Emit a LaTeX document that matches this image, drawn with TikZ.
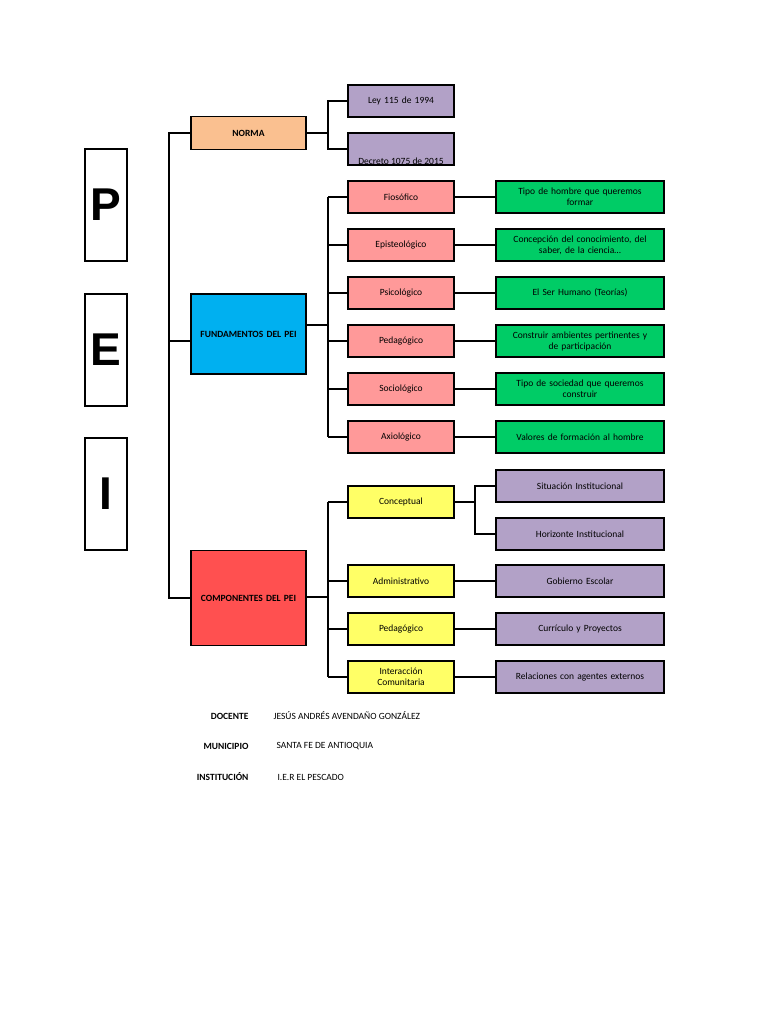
\documentclass[tikz,border=0pt]{standalone}
\usepackage{fontspec}
\setmainfont{Carlito}
\newfontfamily\letrafont{Liberation Sans}
\usetikzlibrary{positioning}
\definecolor{peach}{HTML}{FAC090}
\definecolor{azul}{HTML}{00B0F0}
\definecolor{rojo}{HTML}{FF5050}
\definecolor{lila}{HTML}{B2A1C7}
\definecolor{rosa}{HTML}{FF9999}
\definecolor{verde}{HTML}{00CC66}
\definecolor{amarillo}{HTML}{FFFF66}
\tikzset{
    box/.style = {rectangle, draw=black, line width=1.2pt, text centered, font=\fontsize{9.5}{11}\selectfont},
    letra/.style = {box, minimum width=42pt, minimum height=112pt, font=\fontsize{46}{46}\letrafont\bfseries},
    main/.style = {box, minimum width=115pt, text width=113pt, inner sep=0pt, font=\fontsize{9.5}{11}\selectfont\bfseries},
    mid/.style = {box, minimum width=106pt, minimum height=32pt, text width=104pt, inner sep=0pt},
    leaf/.style = {box, minimum width=168pt, minimum height=32pt, text width=150pt, inner sep=0pt},
    link/.style = {line width=2pt, black}
}
\begin{document}
\begin{tikzpicture}[x=1pt, y=-1pt]
        \useasboundingbox (0,0) rectangle (768,1024);
        % Letters
        \node (p) [letra] at (106,205) {P};
        \node (e) [letra] at (106,350) {E};
        \node (i) [letra] at (106,494) {I};

        % Main blocks
        \node (norma) [main, fill=peach, minimum height=33pt] at (248.5,133) {NORMA};
        \node (fund) [main, fill=azul, minimum height=80pt] at (248.5,334) {FUNDAMENTOS DEL PEI};
        \node (comp) [main, fill=rojo, minimum height=95pt] at (248.5,598) {COMPONENTES DEL PEI};
        \draw [link] (norma.west) -- (169,133) -- (169,598) -- (comp.west);
        \draw [link] (169,341) -- (fund.west |- 0,341);

        % Norma
        \node (ley) [mid, fill=lila] at (401,101) {Ley 115 de 1994};
        \node (dec) [mid, fill=lila] at (401,149) {};
        \node (dect) [font=\fontsize{9.5}{11}\selectfont, anchor=south, inner sep=1pt] at (dec.south) {Decreto 1075 de 2015};
        \draw [link] (norma.east) -- (328,133);
        \draw [link] (ley.west) -| (328,133) |- (dec.west);

        % Fundamentos
        \draw [link] (fund.east |- 0,325) -- (328,325);
        \draw [link] (328,197) -- (328,437);
        \foreach \n/\a/\b [count=\k from 0] in {
            f1/Fiosófico/{Tipo de hombre que queremos\\formar},
            f2/Episteológico/{Concepción del conocimiento, del\\saber, de la ciencia…},
            f3/Psicológico/{El Ser Humano (Teorías)},
            f4/Pedagógico/{Construir ambientes pertinentes y\\de participación},
            f5/Sociológico/{Tipo de sociedad que queremos\\construir},
            f6/Axiológico/{Valores de formación al hombre}} {
            \node (\n) [mid, fill=rosa] at (401,197+48*\k) {\a};
            \node (\n g) [leaf, fill=verde] at (580,197+48*\k) {\b};
            \draw [link] (328,197+48*\k) -- (\n.west);
            \draw [link] (\n.east) -- (\n g.west);
        }

        % Componentes
        \draw [link] (comp.east |- 0,597) -- (328,597);
        \draw [link] (328,502) -- (328,677);
        \node (c1) [mid, fill=amarillo] at (401,502) {Conceptual};
        \node (c1a) [leaf, fill=lila] at (580,486) {Situación Institucional};
        \node (c1b) [leaf, fill=lila] at (580,534) {Horizonte Institucional};
        \draw [link] (328,502) -- (c1.west);
        \draw [link] (c1.east) -- (475,502);
        \draw [link] (c1a.west) -| (475,502) |- (c1b.west);
        \foreach \n/\a/\b [count=\k from 0] in {
            c2/Administrativo/{Gobierno Escolar},
            c3/Pedagógico/{Currículo y Proyectos},
            c4/{Interacción\\Comunitaria}/{Relaciones con agentes externos}} {
            \node (\n) [mid, fill=amarillo] at (401,581+48*\k) {\a};
            \node (\n g) [leaf, fill=lila] at (580,581+48*\k) {\b};
            \draw [link] (328,581+48*\k) -- (\n.west);
            \draw [link] (\n.east) -- (\n g.west);
        }

        % Datos
        \node (d1) [font=\fontsize{9.5}{11}\selectfont\bfseries, anchor=east] at (252,716) {DOCENTE};
        \node (d2) [font=\fontsize{9.5}{11}\selectfont\bfseries, anchor=east] at (252,746) {MUNICIPIO};
        \node (d3) [font=\fontsize{9.5}{11}\selectfont\bfseries, anchor=east] at (252,777) {INSTITUCIÓN};
        \node (v1) [font=\fontsize{9.5}{11}\selectfont, anchor=west] at (270,716) {JESÚS ANDRÉS AVENDAÑO GONZÁLEZ};
        \node (v2) [font=\fontsize{9.5}{11}\selectfont, anchor=west] at (273,746) {SANTA FE DE ANTIOQUIA};
        \node (v3) [font=\fontsize{9.5}{11}\selectfont, anchor=west] at (274,777) {I.E.R EL PESCADO};
    \end{tikzpicture}
\end{document}
